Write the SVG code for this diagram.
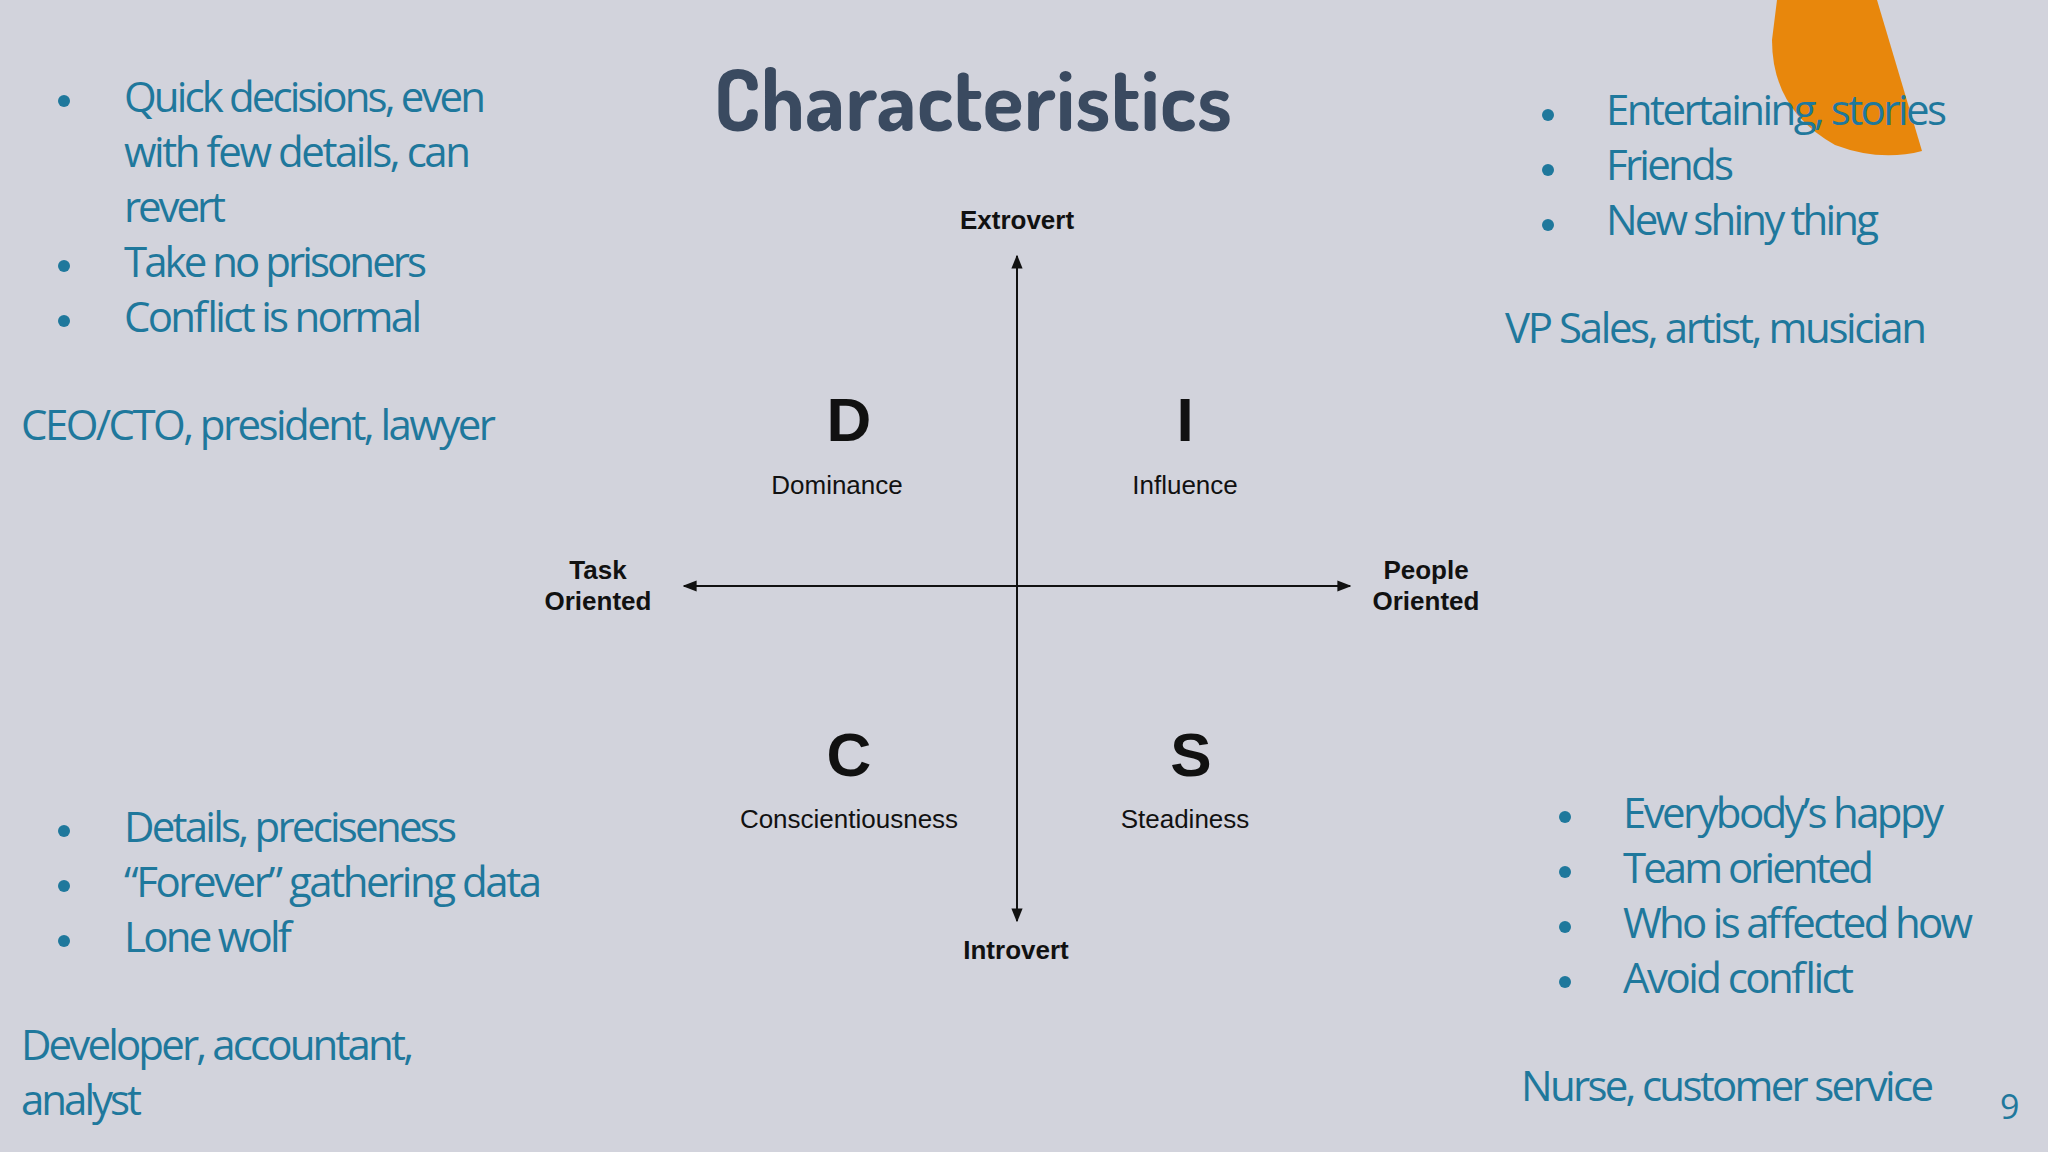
<svg xmlns="http://www.w3.org/2000/svg" width="2048" height="1152" viewBox="0 0 2048 1152">
<defs>
<style>
.t{font-family:"Open Sans","Noto Sans",sans-serif;font-size:42px;fill:#1f789c;font-weight:400}
.b{fill:#1f789c}
.ax{font-family:"Liberation Sans",Arial,sans-serif;font-size:26px;font-weight:bold;fill:#111;text-anchor:middle}
.lt{font-family:"Liberation Sans",Arial,sans-serif;font-size:62px;font-weight:bold;fill:#111;text-anchor:middle}
.nm{font-family:"Liberation Sans",Arial,sans-serif;font-size:26px;fill:#111;text-anchor:middle}
.ln{stroke:#111;stroke-width:2;fill:none}
</style>
<marker id="ah" viewBox="0 0 10 10" refX="9" refY="5" markerWidth="7" markerHeight="7" orient="auto-start-reverse"><path d="M0,1 L10,5 L0,9 Z" fill="#111"/></marker>
</defs>
<rect width="2048" height="1152" fill="#d2d3dc"/>
<path d="M1777,0 L1877,0 L1922,151 Q1880,162 1835,145 Q1772,110 1772,40 Z" fill="#e8870c"/>
<text x="973" y="131" font-family="Dosis,'Open Sans',sans-serif" font-size="84" font-weight="bold" fill="#3a4a60" text-anchor="middle" textLength="518">Characteristics</text>
<g id="connectors">
<line class="ln" x1="1017" y1="600" x2="1017" y2="256" marker-end="url(#ah)"/>
<line class="ln" x1="684" y1="586" x2="1350" y2="586" marker-start="url(#ah)" marker-end="url(#ah)"/>
<line class="ln" x1="1017" y1="590" x2="1017" y2="921" marker-end="url(#ah)"/>
</g>
<g id="axis-labels">
<text class="ax" x="1017" y="229">Extrovert</text>
<text class="ax" x="1016" y="959">Introvert</text>
<text class="ax" x="598" y="579">Task</text>
<text class="ax" x="598" y="610">Oriented</text>
<text class="ax" x="1426" y="579">People</text>
<text class="ax" x="1426" y="610">Oriented</text>
</g>
<g id="D"><text class="lt" x="849" y="441">D</text><text class="nm" x="837" y="494">Dominance</text></g>
<g id="I"><text class="lt" x="1185" y="441">I</text><text class="nm" x="1185" y="494">Influence</text></g>
<g id="C"><text class="lt" x="849" y="776">C</text><text class="nm" x="849" y="828">Conscientiousness</text></g>
<g id="S"><text class="lt" x="1191" y="776">S</text><text class="nm" x="1185" y="828">Steadiness</text></g>
<g id="top-left">
<circle class="b" cx="64" cy="101" r="6"/><circle class="b" cx="64" cy="266" r="6"/><circle class="b" cx="64" cy="321" r="6"/>
<text class="t" x="124" y="112" textLength="362">Quick decisions, even</text>
<text class="t" x="124" y="167" textLength="347">with few details, can</text>
<text class="t" x="124" y="222" textLength="102">revert</text>
<text class="t" x="124" y="277" textLength="303">Take no prisoners</text>
<text class="t" x="124" y="332" textLength="298">Conflict is normal</text>
<text class="t" x="21" y="440" textLength="475">CEO/CTO, president, lawyer</text>
</g>
<g id="bottom-left">
<circle class="b" cx="64" cy="831" r="6"/><circle class="b" cx="64" cy="886" r="6"/><circle class="b" cx="64" cy="941" r="6"/>
<text class="t" x="124" y="842" textLength="333">Details, preciseness</text>
<text class="t" x="124" y="897" textLength="418">“Forever” gathering data</text>
<text class="t" x="124" y="952" textLength="168">Lone wolf</text>
<text class="t" x="21" y="1060" textLength="393">Developer, accountant,</text>
<text class="t" x="21" y="1115" textLength="121">analyst</text>
</g>
<g id="top-right">
<circle class="b" cx="1548" cy="115" r="6"/><circle class="b" cx="1548" cy="170" r="6"/><circle class="b" cx="1548" cy="225" r="6"/>
<text class="t" x="1606" y="125" textLength="341">Entertaining, stories</text>
<text class="t" x="1606" y="180" textLength="128">Friends</text>
<text class="t" x="1606" y="235" textLength="273">New shiny thing</text>
<text class="t" x="1505" y="343" textLength="422">VP Sales, artist, musician</text>
</g>
<g id="bottom-right">
<circle class="b" cx="1565" cy="817" r="6"/><circle class="b" cx="1565" cy="872" r="6"/><circle class="b" cx="1565" cy="927" r="6"/><circle class="b" cx="1565" cy="982" r="6"/>
<text class="t" x="1623" y="828" textLength="321">Everybody’s happy</text>
<text class="t" x="1623" y="883" textLength="251">Team oriented</text>
<text class="t" x="1623" y="938" textLength="350">Who is affected how</text>
<text class="t" x="1623" y="993" textLength="231">Avoid conflict</text>
<text class="t" x="1521" y="1101" textLength="413">Nurse, customer service</text>
</g>
<text class="t" x="2000" y="1119" style="font-size:34px">9</text>
</svg>
